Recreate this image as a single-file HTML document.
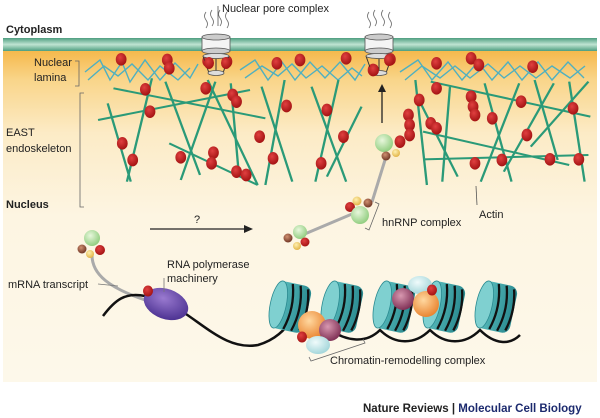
<!DOCTYPE html>
<html><head><meta charset="utf-8"><style>
html,body{margin:0;padding:0;background:#fff}
svg{display:block}
text{font-family:"Liberation Sans",sans-serif;font-size:11px;fill:#222}
.b{font-weight:bold}
</style></head><body>
<svg width="600" height="418" viewBox="0 0 600 418">
<defs>
<linearGradient id="bg" x1="0" y1="0" x2="0" y2="1">
<stop offset="0" stop-color="#f6b84a"/><stop offset="0.09" stop-color="#f9d58a"/><stop offset="0.25" stop-color="#fcebc6"/><stop offset="0.5" stop-color="#fdf5e2"/><stop offset="1" stop-color="#fdf8ea"/>
</linearGradient>
<linearGradient id="mem" x1="0" y1="0" x2="0" y2="1">
<stop offset="0" stop-color="#4e9e80"/><stop offset="0.5" stop-color="#bfe4d2"/><stop offset="1" stop-color="#4e9e80"/>
</linearGradient>
<radialGradient id="gr" cx="0.4" cy="0.35" r="0.7"><stop offset="0" stop-color="#e8f7dc"/><stop offset="1" stop-color="#8ccb7a"/></radialGradient>
<radialGradient id="rd" cx="0.4" cy="0.35" r="0.7"><stop offset="0" stop-color="#e04040"/><stop offset="1" stop-color="#a01010"/></radialGradient>
<radialGradient id="br" cx="0.4" cy="0.35" r="0.7"><stop offset="0" stop-color="#d09070"/><stop offset="1" stop-color="#6a3020"/></radialGradient>
<radialGradient id="ye" cx="0.4" cy="0.35" r="0.7"><stop offset="0" stop-color="#fff0b0"/><stop offset="1" stop-color="#e0b040"/></radialGradient>
<radialGradient id="pu" cx="0.4" cy="0.35" r="0.7"><stop offset="0" stop-color="#9a7ad0"/><stop offset="1" stop-color="#4a3090"/></radialGradient>
<radialGradient id="or" cx="0.4" cy="0.35" r="0.7"><stop offset="0" stop-color="#ffd8a0"/><stop offset="1" stop-color="#e8802a"/></radialGradient>
<radialGradient id="mv" cx="0.4" cy="0.35" r="0.7"><stop offset="0" stop-color="#d898b0"/><stop offset="1" stop-color="#7a2a50"/></radialGradient>
<radialGradient id="lb" cx="0.4" cy="0.35" r="0.7"><stop offset="0" stop-color="#f0fbfb"/><stop offset="1" stop-color="#9fd4d8"/></radialGradient>
<linearGradient id="nuc" x1="0" y1="0" x2="1" y2="0"><stop offset="0" stop-color="#5cc0c0"/><stop offset="1" stop-color="#2a8a90"/></linearGradient>
</defs>
<rect x="3" y="50" width="594" height="332" fill="url(#bg)"/>
<rect x="3" y="38" width="594" height="13" fill="url(#mem)"/>

<g stroke="#4fb0c0" stroke-width="1.4" fill="none">
<polyline points="85,72 100,60 110,80 122,62 130,82 145,60 160,80 175,63 190,78 198,64"/>
<polyline points="88,80 104,66 118,76 132,64 148,80 160,66 178,80 190,68"/>
<polyline points="240,70 255,60 268,80 282,62 295,80 310,62 325,78 340,62 355,80 365,64"/>
<polyline points="245,78 262,66 278,76 292,64 306,78 322,66 338,80 352,68 362,76"/>
<polyline points="400,72 418,60 432,80 448,62 462,80 478,62 492,80 508,62 522,80 538,62 552,80 568,62 584,78"/>
<polyline points="405,80 422,66 440,78 455,66 470,78 488,64 504,78 520,66 536,78 552,66 570,78 585,66"/>
</g>

<g transform="scale(0.3846,0.3333)" stroke="#2a9a78" stroke-width="6" fill="none">
<line x1="295" y1="265" x2="690" y2="355"/><line x1="255" y1="360" x2="650" y2="270"/>
<line x1="280" y1="310" x2="340" y2="545"/><line x1="395" y1="235" x2="330" y2="545"/>
<line x1="430" y1="245" x2="520" y2="525"/><line x1="540" y1="240" x2="670" y2="555"/>
<line x1="440" y1="430" x2="670" y2="555"/><line x1="470" y1="540" x2="560" y2="245"/>
<line x1="680" y1="260" x2="760" y2="545"/><line x1="740" y1="240" x2="690" y2="555"/>
<line x1="810" y1="260" x2="900" y2="545"/><line x1="880" y1="240" x2="820" y2="545"/>
<line x1="940" y1="320" x2="850" y2="530"/><line x1="600" y1="250" x2="620" y2="510"/>
<line x1="1080" y1="240" x2="1110" y2="555"/><line x1="1120" y1="245" x2="1535" y2="350"/>
<line x1="1100" y1="395" x2="1480" y2="495"/><line x1="1100" y1="478" x2="1530" y2="465"/>
<line x1="1085" y1="290" x2="1190" y2="530"/><line x1="1170" y1="260" x2="1150" y2="545"/>
<line x1="1260" y1="250" x2="1330" y2="545"/><line x1="1350" y1="250" x2="1250" y2="545"/>
<line x1="1390" y1="240" x2="1450" y2="480"/><line x1="1480" y1="245" x2="1520" y2="545"/>
<line x1="1530" y1="245" x2="1380" y2="440"/><line x1="1440" y1="250" x2="1310" y2="515"/>
</g>
<g transform="scale(0.3846,0.3333)" fill="url(#rd)">
<ellipse cx="315" cy="178" rx="14" ry="19"/><ellipse cx="435" cy="180" rx="14" ry="19"/><ellipse cx="440" cy="205" rx="14" ry="19"/>
<ellipse cx="540" cy="183" rx="14" ry="19"/><ellipse cx="590" cy="185" rx="14" ry="19"/><ellipse cx="720" cy="190" rx="14" ry="19"/>
<ellipse cx="780" cy="180" rx="14" ry="19"/><ellipse cx="900" cy="175" rx="14" ry="19"/><ellipse cx="1015" cy="178" rx="14" ry="19"/>
<ellipse cx="970" cy="210" rx="14" ry="19"/><ellipse cx="1135" cy="190" rx="14" ry="19"/><ellipse cx="1225" cy="175" rx="14" ry="19"/>
<ellipse cx="1245" cy="195" rx="14" ry="19"/><ellipse cx="1385" cy="200" rx="14" ry="19"/>
<ellipse cx="378" cy="268" rx="14" ry="19"/><ellipse cx="390" cy="335" rx="14" ry="19"/><ellipse cx="535" cy="265" rx="14" ry="19"/>
<ellipse cx="605" cy="285" rx="14" ry="19"/><ellipse cx="615" cy="305" rx="14" ry="19"/><ellipse cx="745" cy="318" rx="14" ry="19"/>
<ellipse cx="850" cy="330" rx="14" ry="19"/><ellipse cx="318" cy="430" rx="14" ry="19"/><ellipse cx="345" cy="480" rx="14" ry="19"/>
<ellipse cx="470" cy="472" rx="14" ry="19"/><ellipse cx="555" cy="458" rx="14" ry="19"/><ellipse cx="550" cy="490" rx="14" ry="19"/>
<ellipse cx="615" cy="515" rx="14" ry="19"/><ellipse cx="640" cy="525" rx="14" ry="19"/><ellipse cx="675" cy="410" rx="14" ry="19"/>
<ellipse cx="710" cy="475" rx="14" ry="19"/><ellipse cx="835" cy="490" rx="14" ry="19"/><ellipse cx="893" cy="410" rx="14" ry="19"/>
<ellipse cx="1090" cy="300" rx="14" ry="19"/><ellipse cx="1062" cy="345" rx="14" ry="19"/><ellipse cx="1065" cy="375" rx="14" ry="19"/>
<ellipse cx="1065" cy="405" rx="14" ry="19"/><ellipse cx="1040" cy="425" rx="14" ry="19"/><ellipse cx="1135" cy="265" rx="14" ry="19"/>
<ellipse cx="1225" cy="290" rx="14" ry="19"/><ellipse cx="1230" cy="320" rx="14" ry="19"/><ellipse cx="1235" cy="345" rx="14" ry="19"/>
<ellipse cx="1280" cy="355" rx="14" ry="19"/><ellipse cx="1355" cy="305" rx="14" ry="19"/><ellipse cx="1490" cy="325" rx="14" ry="19"/>
<ellipse cx="1370" cy="405" rx="14" ry="19"/><ellipse cx="1120" cy="370" rx="14" ry="19"/><ellipse cx="1135" cy="385" rx="14" ry="19"/>
<ellipse cx="1235" cy="490" rx="14" ry="19"/><ellipse cx="1305" cy="480" rx="14" ry="19"/><ellipse cx="1430" cy="478" rx="14" ry="19"/>
<ellipse cx="1505" cy="478" rx="14" ry="19"/>
</g>

<g stroke="#555" stroke-width="0.8">
<g>
<path d="M206,12 q-3,4 0,8 q3,4 0,8 M212,10 q-3,4 0,8 q3,4 0,8 M220,10 q-3,4 0,8 q3,4 0,8 M227,12 q-3,4 0,8 q3,4 0,8" fill="none" stroke="#666"/>
<rect x="202" y="37" width="28" height="14" fill="#f4f4f4"/>
<ellipse cx="216" cy="37" rx="14" ry="3" fill="#ccc"/><ellipse cx="216" cy="51" rx="14" ry="3" fill="#ccc"/>
<path d="M203,56 L209,73 M229,56 L223,73 M216,56 L216,73" fill="none" stroke="#333" stroke-width="1"/>
<ellipse cx="216" cy="56" rx="13" ry="2.5" fill="#ddd"/>
<ellipse cx="216" cy="73" rx="8" ry="2.5" fill="#ddd"/>
</g>
<g transform="translate(163,0)">
<path d="M206,12 q-3,4 0,8 q3,4 0,8 M212,10 q-3,4 0,8 q3,4 0,8 M220,10 q-3,4 0,8 q3,4 0,8 M227,12 q-3,4 0,8 q3,4 0,8" fill="none" stroke="#666"/>
<rect x="202" y="37" width="28" height="14" fill="#f4f4f4"/>
<ellipse cx="216" cy="37" rx="14" ry="3" fill="#ccc"/><ellipse cx="216" cy="51" rx="14" ry="3" fill="#ccc"/>
<path d="M203,56 L209,73 M229,56 L223,73 M216,56 L216,73" fill="none" stroke="#333" stroke-width="1"/>
<ellipse cx="216" cy="56" rx="13" ry="2.5" fill="#ddd"/>
<ellipse cx="216" cy="73" rx="8" ry="2.5" fill="#ddd"/>
</g>
</g>
<g fill="url(#rd)"><ellipse cx="209" cy="63" rx="5" ry="6"/><ellipse cx="226" cy="63" rx="5" ry="6"/><ellipse cx="389" cy="60" rx="5" ry="6"/><ellipse cx="374" cy="70" rx="5" ry="6"/></g>

<line x1="218" y1="6" x2="218" y2="26" stroke="#555" stroke-width="0.8"/>
<text x="222" y="12">Nuclear pore complex</text>
<text x="6" y="33" class="b">Cytoplasm</text>
<text x="34" y="66">Nuclear</text><text x="34" y="81">lamina</text>
<path d="M75,61 h4 v25 h-4" fill="none" stroke="#666" stroke-width="0.8"/>
<text x="6" y="136">EAST</text><text x="6" y="152">endoskeleton</text>
<path d="M84,93 h-4 v114 h4" fill="none" stroke="#666" stroke-width="0.8"/>
<text x="6" y="208" class="b">Nucleus</text>
<line x1="476" y1="186" x2="477" y2="205" stroke="#555" stroke-width="0.8"/>
<text x="479" y="218">Actin</text>

<line x1="382" y1="123" x2="382" y2="90" stroke="#222" stroke-width="1.3"/>
<path d="M378,92 L382,84 L386,92 Z" fill="#222"/>

<path d="M385,160 L372,202" stroke="#aaa" stroke-width="3" fill="none"/>
<path d="M300,236 L352,214" stroke="#aaa" stroke-width="3" fill="none"/>
<circle cx="384" cy="143" r="9" fill="url(#gr)"/><circle cx="386" cy="156" r="4.5" fill="url(#br)"/><circle cx="396" cy="153" r="4" fill="url(#ye)"/>
<circle cx="350" cy="207" r="5" fill="url(#rd)"/><circle cx="357" cy="201" r="4.5" fill="url(#ye)"/><circle cx="368" cy="203" r="4.5" fill="url(#br)"/><circle cx="360" cy="215" r="9" fill="url(#gr)"/>
<path d="M365,228 l4,2 l10,-26 l-4,-2" fill="none" stroke="#666" stroke-width="0.8"/>
<text x="382" y="226">hnRNP complex</text>
<circle cx="300" cy="232" r="7" fill="url(#gr)"/><circle cx="288" cy="238" r="4.5" fill="url(#br)"/><circle cx="297" cy="246" r="4" fill="url(#ye)"/><circle cx="305" cy="242" r="4.5" fill="url(#rd)"/>

<line x1="150" y1="229" x2="245" y2="229" stroke="#222" stroke-width="1.3"/>
<path d="M244,225 L253,229 L244,233 Z" fill="#222"/>
<text x="194" y="223">?</text>

<path d="M92,255 C92,275 110,288 145,300" stroke="#aaa" stroke-width="3" fill="none"/>
<circle cx="92" cy="238" r="8" fill="url(#gr)"/><circle cx="82" cy="249" r="4.5" fill="url(#br)"/><circle cx="90" cy="254" r="4" fill="url(#ye)"/><circle cx="100" cy="250" r="5" fill="url(#rd)"/>
<text x="8" y="288">mRNA transcript</text>
<line x1="98" y1="284" x2="118" y2="286" stroke="#777" stroke-width="0.8"/>

<path d="M103,316 C115,300 125,292 145,296 M183,312 C210,330 230,350 258,345 C275,340 285,330 293,318 C300,335 320,345 330,330 C345,340 365,345 380,330 C395,345 415,345 430,330 C445,345 465,345 480,330 C495,345 510,345 520,335" stroke="#111" stroke-width="2.5" fill="none"/>

<ellipse cx="166" cy="304" rx="23" ry="15" transform="rotate(20 166 304)" fill="url(#pu)"/>
<ellipse cx="148" cy="291" rx="5" ry="5.5" fill="url(#rd)"/>
<line x1="164" y1="278" x2="164" y2="292" stroke="#777" stroke-width="0.8"/>
<text x="167" y="268">RNA polymerase</text><text x="167" y="282">machinery</text>

<g id="nucs">
<g transform="translate(290,307) rotate(12)">
<rect x="-16" y="-24" width="34" height="48" rx="8" fill="url(#nuc)"/>
<ellipse cx="-12" cy="0" rx="8" ry="24" fill="#7fd0d0" stroke="#2a8a90" stroke-width="0.8"/>
<path d="M-2,-23 q7,23 0,46 M6,-23 q7,23 0,46 M14,-21 q6,21 0,42" stroke="#111" stroke-width="2.3" fill="none"/>
</g>
</g>
<use href="#nucs" transform="translate(52,0)"/>
<use href="#nucs" transform="translate(104,0)"/>
<use href="#nucs" transform="translate(154,0)"/>
<use href="#nucs" transform="translate(206,0)"/>

<circle cx="312" cy="325" r="14" fill="url(#or)"/><circle cx="330" cy="330" r="11" fill="url(#mv)"/>
<ellipse cx="318" cy="345" rx="12" ry="9" fill="url(#lb)"/><ellipse cx="302" cy="337" rx="5" ry="5.5" fill="url(#rd)"/>
<ellipse cx="420" cy="285" rx="12" ry="9" fill="url(#lb)"/><circle cx="403" cy="299" r="11" fill="url(#mv)"/>
<circle cx="426" cy="304" r="13" fill="url(#or)"/><ellipse cx="432" cy="290" rx="5" ry="5.5" fill="url(#rd)"/>
<path d="M309,357 l2,4 l54,-18 l-2,-4" fill="none" stroke="#666" stroke-width="0.8"/>
<text x="330" y="364">Chromatin-remodelling complex</text>

<text x="363" y="412" class="b" style="font-size:11.5px">Nature Reviews | <tspan fill="#1c2a6e">Molecular Cell Biology</tspan></text>
</svg>
</body></html>
